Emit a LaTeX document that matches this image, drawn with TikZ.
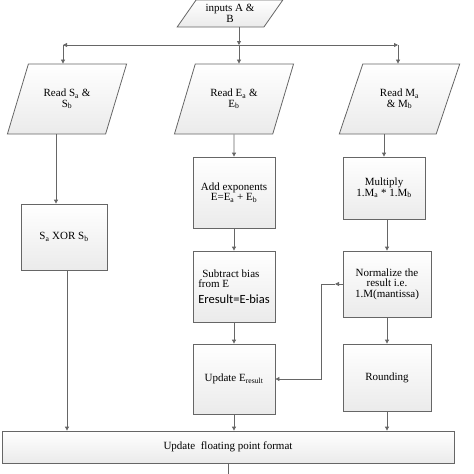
\documentclass[tikz,border=0pt]{standalone}
\usepackage{fontspec}
\setmainfont{Liberation Serif}
\newfontfamily\calibri{Carlito}
\usetikzlibrary{shapes.geometric,arrows.meta}

\begin{document}
\begin{tikzpicture}[x=1pt,y=-1pt,
  linea/.style={draw=black!60, line width=0.8pt},
  flecha/.style={linea, -{Triangle[length=4pt,width=4pt]}},
  caja/.style={rectangle, draw=black!60, line width=0.8pt, top color=white,
    bottom color=black!8, align=center, inner sep=2pt,
    font=\fontsize{11}{10.5}\selectfont},
  entrada/.style={caja, trapezium, trapezium left angle=60,
    trapezium right angle=120, trapezium stretches=true}]
  % Fijar el marco de la figura
  \useasboundingbox (0,0) rectangle (474,474);

  % Dibujar las entradas
  \node[entrada, trapezium left angle=56, trapezium right angle=124,
    minimum width=106pt, minimum height=27pt] (inp) at (230,13.5) {inputs A \&\\B};
  \node[entrada, minimum width=120pt, minimum height=70pt] (rs) at (67,99)
    {Read S\textsubscript{a} \&\\S\textsubscript{b}};
  \node[entrada, minimum width=120pt, minimum height=70pt] (re) at (234,99)
    {Read E\textsubscript{a} \&\\E\textsubscript{b}};
  \node[entrada, minimum width=121pt, minimum height=70pt] (rm) at (399.5,99)
    {Read M\textsubscript{a}\\\& M\textsubscript{b}};

  % Dibujar los pasos de cada columna
  \node[caja, minimum width=86pt, minimum height=66pt] (xor) at (64,237)
    {S\textsubscript{a} XOR S\textsubscript{b}};
  \node[caja, minimum width=82pt, minimum height=71pt] (add) at (234,192.5)
    {Add exponents\\E=E\textsubscript{a} + E\textsubscript{b}};
  \node[caja, minimum width=82pt, minimum height=71pt, align=left] (sub) at (234,286.5)
    {\hspace{4pt}Subtract bias\\from E\\[5pt]{\calibri\fontsize{12.5}{12.5}\selectfont Eresult=E-bias}};
  \node[caja, minimum width=82pt, minimum height=70pt] (upd) at (234,379)
    {Update E\textsubscript{result}};
  \node[caja, minimum width=82pt, minimum height=62pt] (mul) at (384,188)
    {Multiply\\1.M\textsubscript{a} * 1.M\textsubscript{b}};
  \node[caja, minimum width=88pt, minimum height=66pt] (norm) at (387,284)
    {Normalize the\\result i.e.\\1.M(mantissa)};
  \node[caja, minimum width=88pt, minimum height=67pt] (rnd) at (387,377.5)
    {Rounding};
  \node[caja, minimum width=452pt, minimum height=32pt] (fmt) at (228,447)
    {Update\ \ floating point format};

  % Puntos de las ramas y esquinas
  \coordinate (rama) at (239,45);     % Reparto de las entradas
  \coordinate (ramaI) at (63,45);     % Esquina izquierda
  \coordinate (ramaD) at (398,45);    % Esquina derecha
  \coordinate (s1) at (56,0);         % Bajada del signo
  \coordinate (s2) at (67,0);         % Salida del XOR
  \coordinate (punta) at (335,0);     % Flecha del retorno
  \coordinate (vuelta) at (321,0);    % Bajada del retorno
  \coordinate (fin) at (228,474);     % Salida final

  % Dibujar el reparto de las entradas
  \draw[flecha] (rama |- inp.south) -- (rama);
  \draw[flecha] (rama) -- (ramaI);
  \draw[flecha] (rama) -- (ramaD);
  \draw[flecha] (ramaI) -- (ramaI |- rs.north);
  \draw[flecha] (rama) -- (rama |- re.north);
  \draw[flecha] (ramaD) -- (ramaD |- rm.north);

  % Dibujar la columna del signo
  \draw[flecha] (s1 |- rs.south) -- (s1 |- xor.north);
  \draw[flecha] (s2 |- xor.south) -- (s2 |- fmt.north);

  % Dibujar la columna del exponente
  \draw[flecha] (re.south) -- (add.north);
  \draw[flecha] (add.south) -- (sub.north);
  \draw[flecha] (sub.south) -- (upd.north);
  \draw[flecha] (upd.south) -- (upd.south |- fmt.north);

  % Dibujar la columna de la mantisa
  \draw[flecha] (mul.north |- rm.south) -- (mul.north);
  \draw[flecha] (norm.north |- mul.south) -- (norm.north);
  \draw[flecha] (norm.south) -- (rnd.north);
  \draw[flecha] (rnd.south) -- (rnd.south |- fmt.north);

  % Dibujar el retorno hacia el exponente
  \draw[flecha] (norm.west) -- (punta |- norm.west);
  \draw[flecha] (punta |- norm.west) -- (vuelta |- norm.west) |- (upd.east);

  % Dibujar la salida final
  \draw[linea] (fmt.south) -- (fin);
\end{tikzpicture}
\end{document}
